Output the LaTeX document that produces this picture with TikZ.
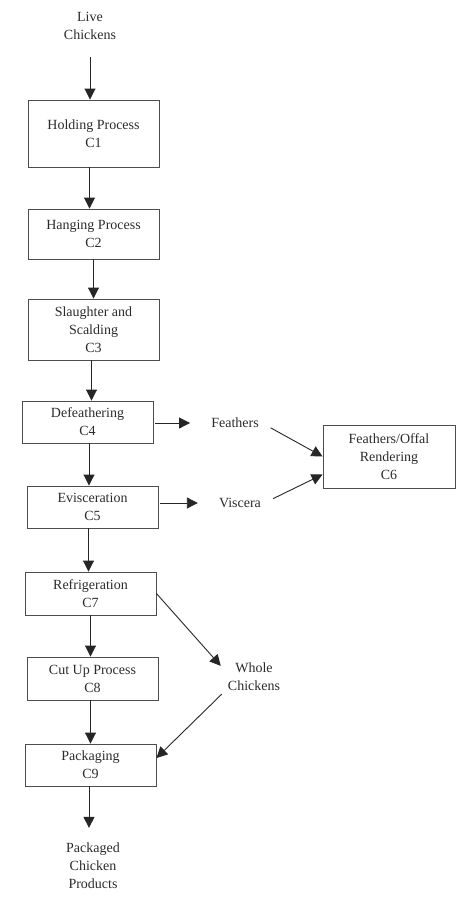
\documentclass[tikz,border=0pt]{standalone}
\usepackage{fontspec}
\setmainfont{Liberation Serif}
\usepackage{tikz}
\usetikzlibrary{arrows.meta}
\definecolor{edge}{HTML}{4D4D4D}
\definecolor{ink}{HTML}{2B2B2B}
\newcommand{\txt}{\fontsize{14}{18}\selectfont}
\tikzset{
  proc/.style = {draw=edge, line width=0.9pt, minimum width=131pt, align=center,
                 inner sep=2pt, font=\txt, text=ink},
  flow/.style = {align=center, inner sep=3pt, font=\txt, text=ink},
  ar/.style   = {-{Triangle[length=11pt,width=11pt]}, line width=0.9pt, draw=black!85},
}
\begin{document}
\begin{tikzpicture}[x=1pt,y=-1pt]
  \useasboundingbox (0,0) rectangle (474,910);
  % main line
  \node[flow] (live) at (90,26) {Live\\Chickens};
  \node[proc, minimum height=67pt] (C1) at (93.5,133.5) {Holding Process\\C1};
  \node[proc, minimum height=50pt] (C2) at (93.5,234) {Hanging Process\\C2};
  \node[proc, minimum height=61pt] (C3) at (93.5,329.5) {Slaughter and\\Scalding\\C3};
  \node[proc, minimum height=42pt] (C4) at (87.5,422) {Defeathering\\C4};
  \node[proc, minimum height=42pt] (C5) at (92.5,507) {Evisceration\\C5};
  \node[proc, minimum height=43pt] (C7) at (90.5,593.5) {Refrigeration\\C7};
  \node[proc, minimum height=43pt] (C8) at (92.5,678.5) {Cut Up Process\\C8};
  \node[proc, minimum height=42pt] (C9) at (90.5,765) {Packaging\\C9};
  \node[flow] (pack) at (93,866) {Packaged\\Chicken\\Products};
  % side streams
  \node[flow] (feath) at (235,423) {Feathers};
  \node[flow] (visc) at (240,503) {Viscera};
  \node[proc, minimum width=132pt, minimum height=63pt] (C6) at (389,456.5)
    {Feathers/Offal\\Rendering\\C6};
  \node[flow] (whole) at (254,677) {Whole\\Chickens};

  \draw[ar, shorten <=14pt] (live) -- (live |- C1.north);
  \draw[ar] ([xshift=-4pt]C1.south) -- ([xshift=-4pt]C1.south |- C2.north);
  \draw[ar] (C2.south) -- (C2.south |- C3.north);
  \draw[ar] ([xshift=-2pt]C3.south) -- ([xshift=-2pt]C3.south |- C4.north);
  \draw[ar] ([xshift=1.5pt]C4.south) -- ([xshift=1.5pt]C4.south |- C5.north);
  \draw[ar] ([xshift=-4pt]C5.south) -- ([xshift=-4pt]C5.south |- C7.north);
  \draw[ar] (C7.south) -- (C7.south |- C8.north);
  \draw[ar] ([xshift=-2pt]C8.south) -- ([xshift=-2pt]C8.south |- C9.north);
  \draw[ar, shorten >=12pt] ([xshift=-1.5pt]C9.south) -- ([xshift=-1.5pt]C9.south |- pack.north);

  \draw[ar, shorten <=2pt, shorten >=18pt] (C4.east |- feath) -- (feath.west);
  \draw[ar, shorten <=2pt, shorten >=18pt] (C5.east |- visc) -- (visc.west);
  \draw[ar, shorten <=10pt] (feath.east) -- (C6.west);
  \draw[ar, shorten <=10pt] (visc.east) -- ([yshift=-18pt]C6.west);
  \draw[ar] (C7.east) -- ([shift={(-4pt,-6pt)}]whole.north west);
  \draw[ar] ([xshift=-3pt]whole.south west) -- ([yshift=7pt]C9.east);
\end{tikzpicture}
\end{document}
